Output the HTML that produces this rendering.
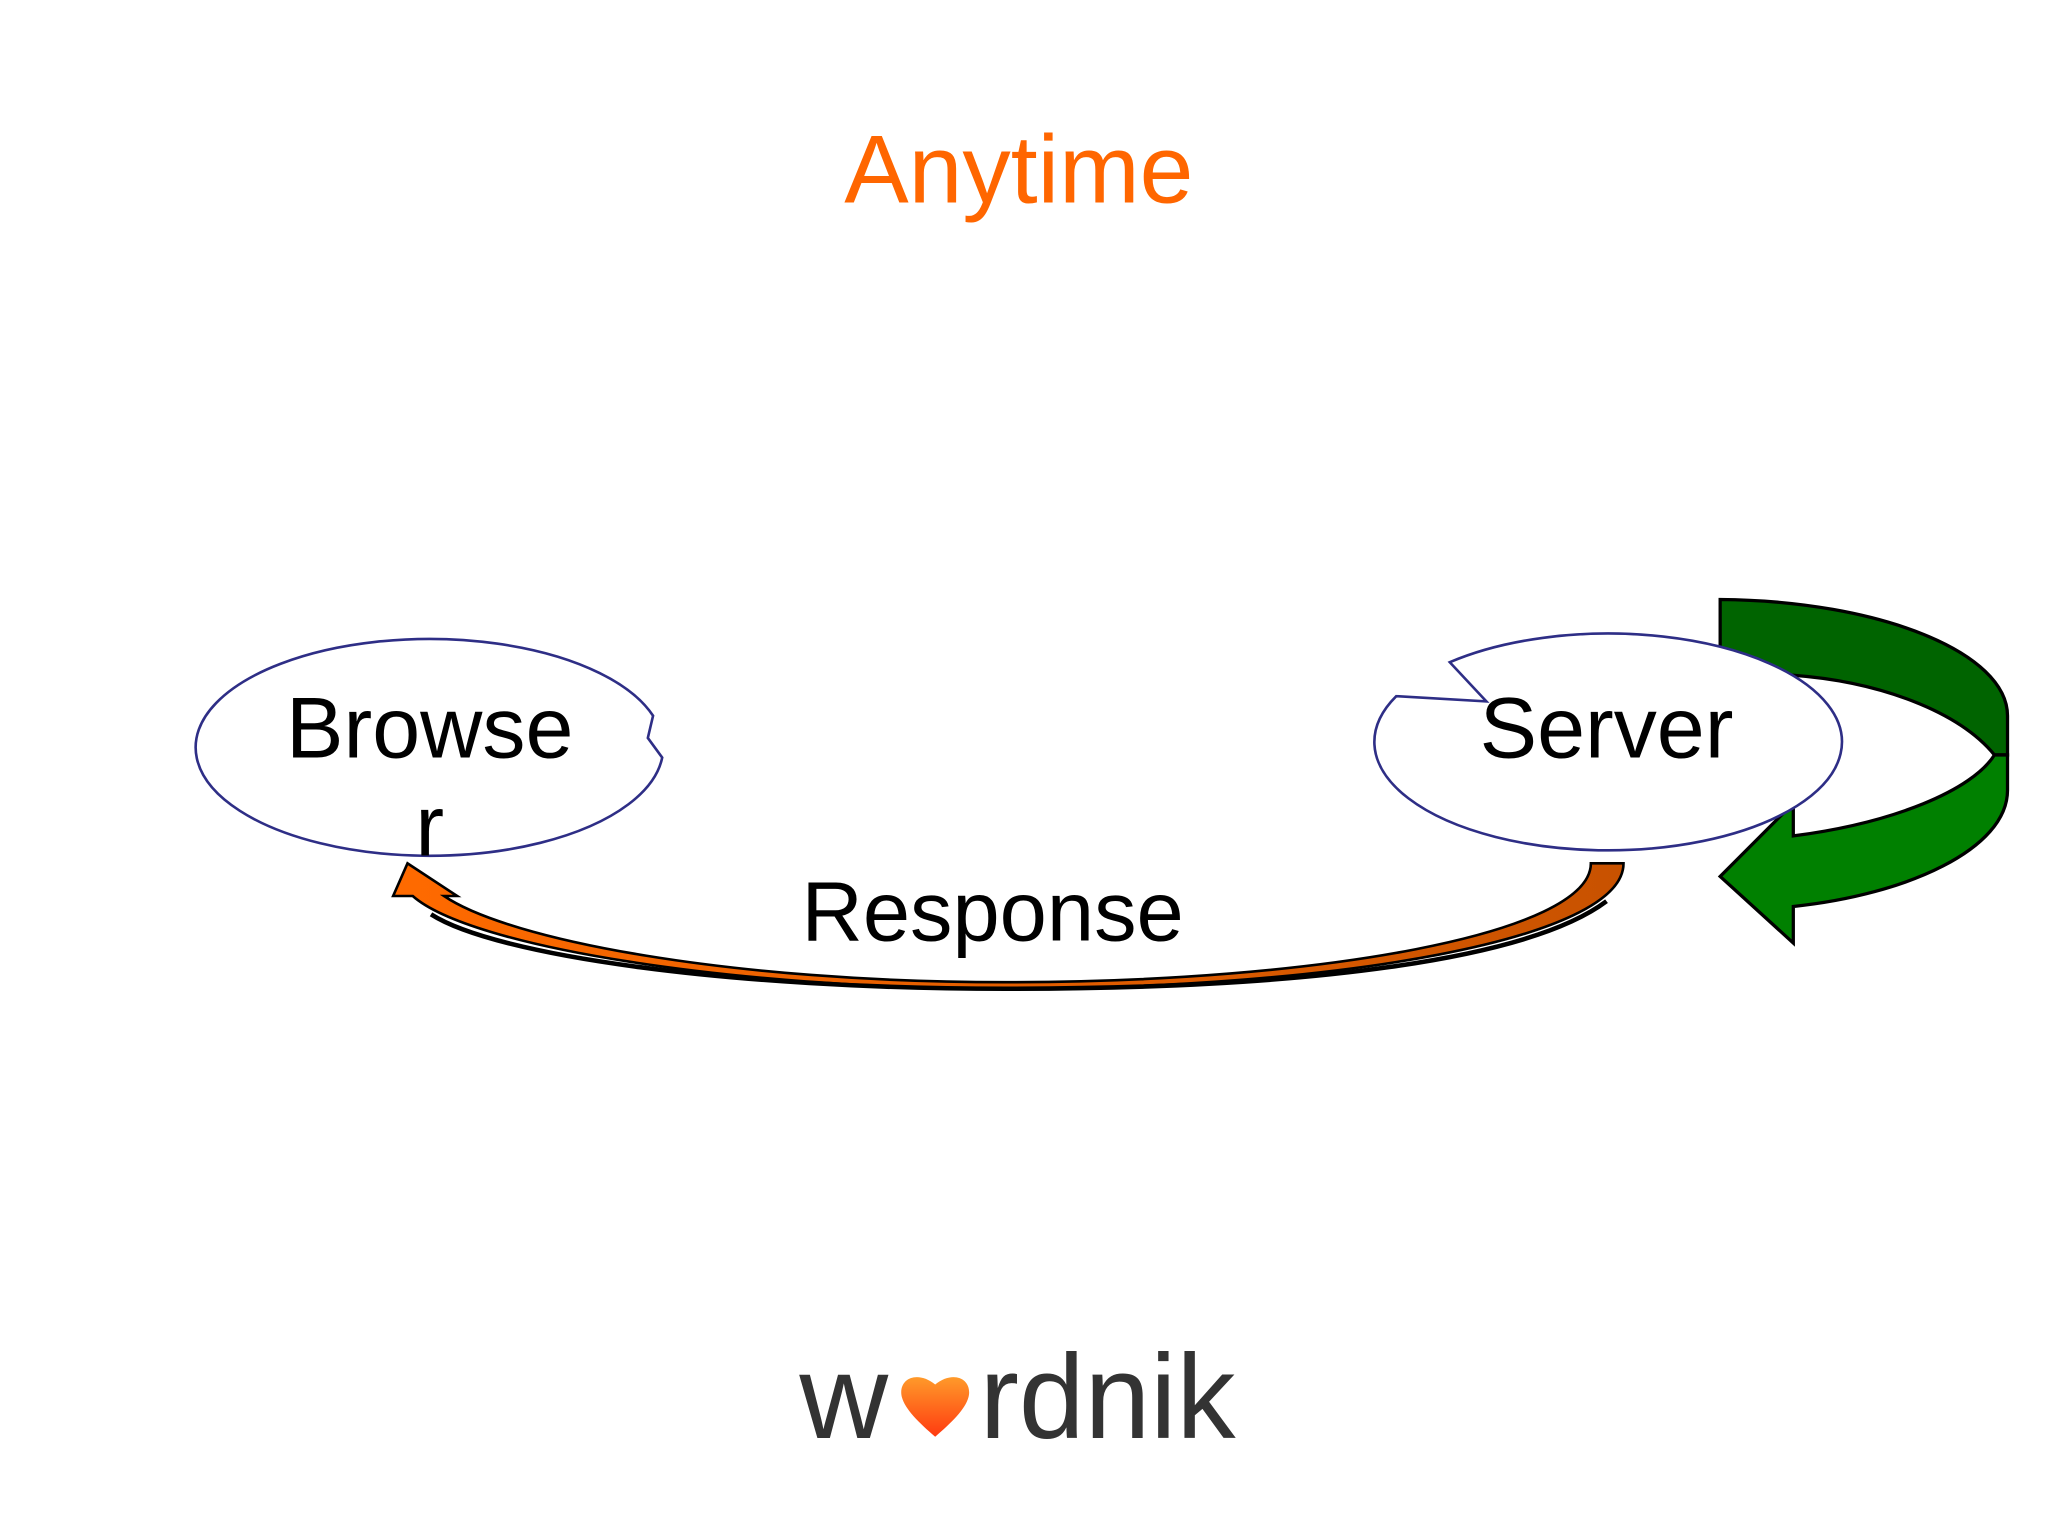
<!DOCTYPE html>
<html><head><meta charset="utf-8"><style>
html,body{margin:0;padding:0;background:#fff;}
svg{display:block;}
text{font-family:"Liberation Sans",sans-serif;}
</style></head><body>
<svg width="2048" height="1536" viewBox="0 0 1568 1176" xmlns="http://www.w3.org/2000/svg">
<defs>
<linearGradient id="og" x1="0" x2="1" y1="0" y2="0">
<stop offset="0" stop-color="#ff6a00"/><stop offset="1" stop-color="#c85200"/>
</linearGradient>
<linearGradient id="hg" x1="0" x2="0" y1="0" y2="1">
<stop offset="0" stop-color="#ff9a2a"/><stop offset="1" stop-color="#ff3a10"/>
</linearGradient>
</defs>
<rect width="1568" height="1176" fill="#fff"/>
<text x="780" y="155" font-size="74" fill="#ff6600" text-anchor="middle">Anytime</text>

<!-- green arrow -->
<path d="M1317,459 C1440,460 1537,500 1537,548 L1537,578 L1527,578 C1500,545 1440,522 1373,517 L1317,517 Z" fill="#006400" stroke="#000" stroke-width="2.5"/>
<path d="M1527,578 L1537,578 L1537,605 C1537,650 1460,685 1373,694 L1373,722 L1317,671 L1373,615 L1373,640 C1450,630 1510,605 1527,578 Z" fill="#008000" stroke="#000" stroke-width="2.5"/>

<!-- orange arrow -->
<path d="M1243,661 C1243,720 1020,757 770,757 C560,757 360,725 316,686 L301,686 L312,661 L350,686 L340,686 C390,720 560,752 770,752 C1010,752 1218,715 1218,661 Z" fill="url(#og)" stroke="#000" stroke-width="2"/>
<path d="M1230,690 C1170,735 1000,757 770,757 C560,757 380,732 330,700" fill="none" stroke="#000" stroke-width="3.5"/>

<!-- browser -->
<path d="M500,548 A179,83 0 1 0 507,580 L496,565 Z" fill="#fff" stroke="#2e2e86" stroke-width="2"/>
<text x="329" y="580" font-size="66" text-anchor="middle" fill="#000">Browse</text>
<text x="329" y="655" font-size="66" text-anchor="middle" fill="#000">r</text>

<!-- server -->
<path d="M1110,507 A179,83 0 1 1 1069,533 L1138,537 Z" fill="#fff" stroke="#2e2e86" stroke-width="2"/>
<text x="1230" y="580" font-size="66" text-anchor="middle" fill="#000">Server</text>

<text x="760" y="720" font-size="65" text-anchor="middle" fill="#000">Response</text>

<!-- wordnik logo -->
<text x="612" y="1101" font-size="92" fill="#333" textLength="68" lengthAdjust="spacingAndGlyphs">w</text>
<path d="M716,1100 C702,1088 690,1076 690,1066 C690,1054 704,1050 716,1060 C728,1050 742,1054 742,1066 C742,1076 730,1088 716,1100 Z" fill="url(#hg)"/>
<text x="750" y="1101" font-size="92" fill="#333" textLength="196" lengthAdjust="spacingAndGlyphs">rdnik</text>
</svg>
</body></html>
